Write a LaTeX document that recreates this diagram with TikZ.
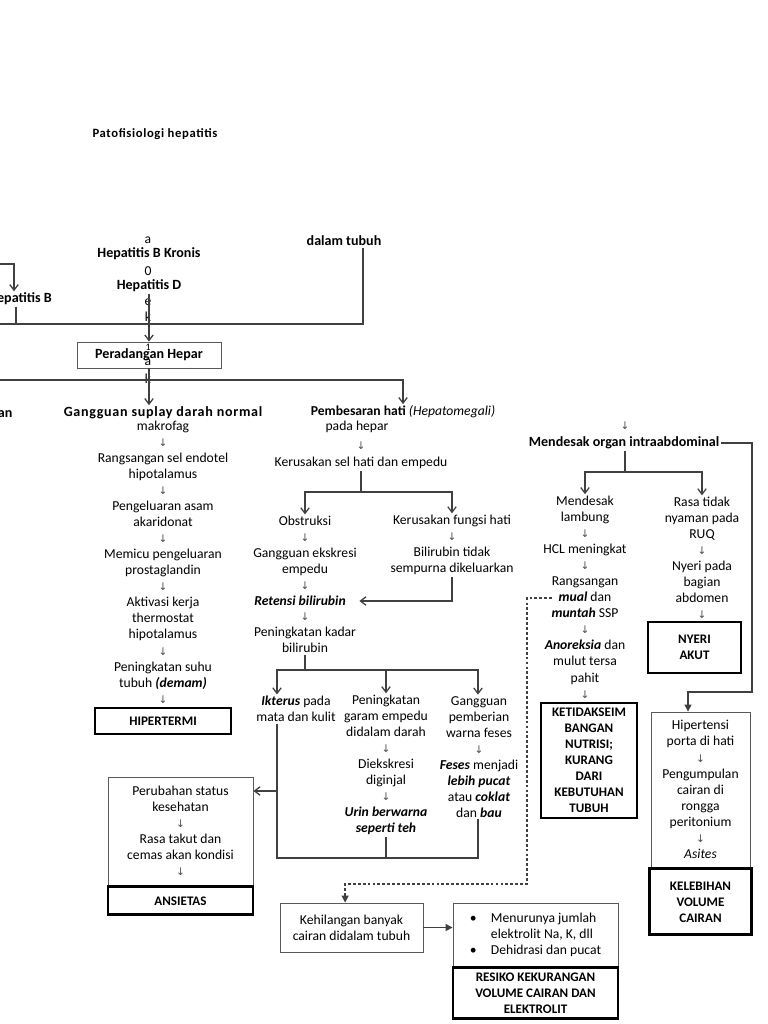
\documentclass[tikz,border=0pt]{standalone}
\usepackage{fontspec}
\setmainfont{Carlito}
\newfontfamily\panahfont{DejaVu Sans}
\usetikzlibrary{arrows.meta}

\newcommand{\turun}{{\panahfont\fontsize{7.5}{7.5}\selectfont\color{black!70}↓}}
\newcommand{\bi}[1]{\textbf{\textit{#1}}}

\tikzset{
  teks/.style={align=center, inner sep=1pt, font=\fontsize{9.7}{11.42}\selectfont},
  judul/.style={teks, font=\bfseries\fontsize{10}{11.42}\selectfont},
  kotak/.style={teks, draw=black!65, line width=0.6pt},
  diag/.style={teks, draw=black, line width=2pt, font=\bfseries\fontsize{9.3}{11.42}\selectfont},
  sisa/.style={inner sep=0pt, font=\fontsize{9.7}{9.7}\selectfont},
  garis/.style={draw=black!75, line width=0.9pt},
  panah/.style={garis, -{Straight Barb[length=4pt,width=6pt]}},
  panahp/.style={garis, -{Triangle[length=5pt,width=5pt]}},
}

\begin{document}
\begin{tikzpicture}[x=0.025cm, y=-0.025cm]
\useasboundingbox (0,0) rectangle (768,1024);

% judul
\node[judul, font=\bfseries\fontsize{9}{10}\selectfont\addfontfeature{LetterSpace=5}] (jdl) at (155,134) {Patofisiologi hepatitis};

% bagian atas
\node[judul] (hbk) at (149,254) {Hepatitis B Kronis};
\node[judul] (hd) at (149,286) {Hepatitis D};
\node[judul] (dt) at (344,241) {dalam tubuh};
\node[judul] (hb) at (20,299) {Hepatitis B};
\node[kotak, font=\bfseries\fontsize{10}{11.42}\selectfont, minimum width=3.6cm, minimum height=0.65cm] (ph) at (149,355) {Peradangan Hepar};
\node[judul, anchor=east] (lan) at (14,413) {lan};
\foreach \h/\y [count=\i] in {a/240,0/271,e/302,k/317,a/362,k/379}
  \node[sisa] (sisa\i) at (148,\y) {\h};
\node[sisa, font=\fontsize{7}{7}\selectfont] (sisa7) at (148,347) {1};

\coordinate (t0) at (-10,324);
\coordinate (t1) at (363,324);
\coordinate (t2) at (16,324);
\coordinate (t3) at (-10,264);
\coordinate (t5) at (-10,380);

% kolom kiri
\node[judul, font=\bfseries\fontsize{10}{11.42}\selectfont\addfontfeature{LetterSpace=5}] (gsd) at (163,413) {Gangguan suplay darah normal};
\node[teks] (mkf) at (163,562) {makrofag\\\turun\\Rangsangan sel endotel\\hipotalamus\\\turun\\Pengeluaran asam\\akaridonat\\\turun\\Memicu pengeluaran\\prostaglandin\\\turun\\Aktivasi kerja\\thermostat\\hipotalamus\\\turun\\Peningkatan suhu\\tubuh \bi{(demam)}\\\turun};
\node[diag, minimum width=3.4cm, minimum height=0.65cm] (hpt) at (163,721) {HIPERTERMI};

% kolom tengah
\node[teks] (hati) at (403,412) {\textbf{Pembesaran hati} \textit{(Hepatomegali)}};
\node[teks] (hpr) at (357,427) {pada hepar};
\node[teks] (hpra) at (361,446) {\turun};
\node[teks] (ksh) at (361,463) {Kerusakan sel hati dan empedu};
\node[teks] (obs) at (305,553) {Obstruksi\\\turun\\Gangguan ekskresi\\empedu\\\turun};
\node[teks] (ret) at (300,601) {\bi{Retensi bilirubin}};
\node[teks] (kdr) at (305,633) {\turun\\Peningkatan kadar\\bilirubin};
\node[teks] (kfh) at (452,545) {Kerusakan fungsi hati\\\turun\\Bilirubin tidak\\sempurna dikeluarkan};
\node[teks] (ikt) at (296,709) {\bi{Ikterus} pada\\mata dan kulit};
\node[teks] (grm) at (386,765) {Peningkatan\\garam empedu\\didalam darah\\\turun\\Diekskresi\\diginjal\\\turun\\\bi{Urin berwarna}\\\bi{seperti teh}};
\node[teks] (fss) at (479,757) {Gangguan\\pemberian\\warna feses\\\turun\\\bi{Feses} menjadi\\\bi{lebih pucat}\\atau \bi{coklat}\\dan \bi{bau}};

% ansietas
\node[kotak, minimum width=3.625cm, minimum height=2.7cm] (ans) at (180.5,831) {Perubahan status\\kesehatan\\\turun\\Rasa takut dan\\cemas akan kondisi\\\turun};
\node[diag, minimum width=3.625cm, minimum height=0.7cm, anchor=north] (ansd) at (ans.south) {ANSIETAS};

% bawah
\node[kotak, minimum width=3.575cm, minimum height=1.225cm] (kh) at (351.5,927.5) {Kehilangan banyak\\cairan didalam tubuh};
\node[kotak, minimum width=4.125cm, minimum height=1.575cm, align=left] (elk) at (535.5,934.5) {\makebox[15pt][l]{\textbullet}Menurunya jumlah\\\hspace*{15pt}elektrolit Na, K, dll\\\makebox[15pt][l]{\textbullet}Dehidrasi dan pucat};
\node[diag, minimum width=4.125cm, minimum height=1.275cm, anchor=north] (rsk) at (elk.south) {RESIKO KEKURANGAN\\VOLUME CAIRAN DAN\\ELEKTROLIT};

% kolom kanan
\node[teks] (pd) at (625,426) {\turun};
\node[judul] (mdo) at (624,443) {Mendesak organ intraabdominal};
\node[teks] (lmb) at (585,597) {Mendesak\\lambung\\\turun\\HCL meningkat\\\turun\\Rangsangan\\\bi{mual} dan\\\bi{muntah} SSP\\\turun\\\bi{Anoreksia} dan\\mulut tersa\\pahit\\\turun};
\node[diag, minimum width=2.4cm, minimum height=2.875cm] (ktd) at (589,760.5) {KETIDAKSEIM\\BANGAN\\NUTRISI;\\KURANG\\DARI\\KEBUTUHAN\\TUBUH};
\node[teks] (ruq) at (702,558) {Rasa tidak\\nyaman pada\\RUQ\\\turun\\Nyeri pada\\bagian\\abdomen\\\turun};
\node[diag, minimum width=2.325cm, minimum height=1.275cm] (nyr) at (694.5,647.5) {NYERI\\AKUT};
\node[kotak, minimum width=2.475cm, minimum height=3.875cm] (hip) at (700.5,789.5) {Hipertensi\\porta di hati\\\turun\\Pengumpulan\\cairan di\\rongga\\peritonium\\\turun\\\textit{Asites}};
\node[diag, minimum width=2.55cm, minimum height=1.65cm, anchor=north] (klb) at (hip.south) {KELEBIHAN\\VOLUME\\CAIRAN};

% garis atas
\draw[garis] (t1 |- dt.south) -- (t1) -- (t0);
\draw[garis] (t2 |- hb.south) -- (t2);
\draw[panah] (t3) -| ([xshift=-0.15cm]hb.north);
\draw[panah] (hd.south) -- (ph.north);
\draw[panah] (ph.south) -- (ph.south |- gsd.north);
\draw[panah] (t5) -| (hati.north);

% garis tengah
\coordinate (m1) at (361,492);
\coordinate (m2) at (305,670);
\coordinate (kiri) at (277,858);
\coordinate (kanan) at (478,858);
\coordinate (m3) at (277,791);
\draw[garis] (ksh.south) -- (m1);
\draw[panah] (m1) -| (obs.north);
\draw[panah] (m1) -| (kfh.north);
\draw[panah] (kfh.south) |- ([xshift=0.3cm]ret.east);
\draw[garis] (kdr.south) -- (m2);
\draw[panah] (m2) -| (kiri |- ikt.north);
\draw[panah] (m2) -| (grm.north);
\draw[panah] (m2) -| (kanan |- fss.north);
\draw[garis] (kiri |- ikt.south) -- (kiri) -- (kanan) -- (kanan |- fss.south);
\draw[garis] (grm.south) -- (grm.south |- kiri);
\draw[panah] (m3) -- (m3 -| ans.east);

% garis kanan
\coordinate (k1) at (625,472);
\coordinate (k2) at (752,692);
\coordinate (k3) at (688,692);
\draw[garis] (k1 |- mdo.south) -- (k1);
\draw[panah] (k1) -| (lmb.north);
\draw[panah] (k1) -| (ruq.north);
\draw[panahp] (mdo.east) -| (k2) -| (k3 |- hip.north);

% garis putus
\coordinate (d1) at (552,598);
\coordinate (d2) at (527,884);
\draw[panahp, dash pattern=on 2pt off 1.5pt] (d1) -| (d2) -| ([xshift=-0.16cm]kh.north);
\draw[panahp] (kh.east) -- (kh.east -| elk.west);

\end{tikzpicture}
\end{document}
